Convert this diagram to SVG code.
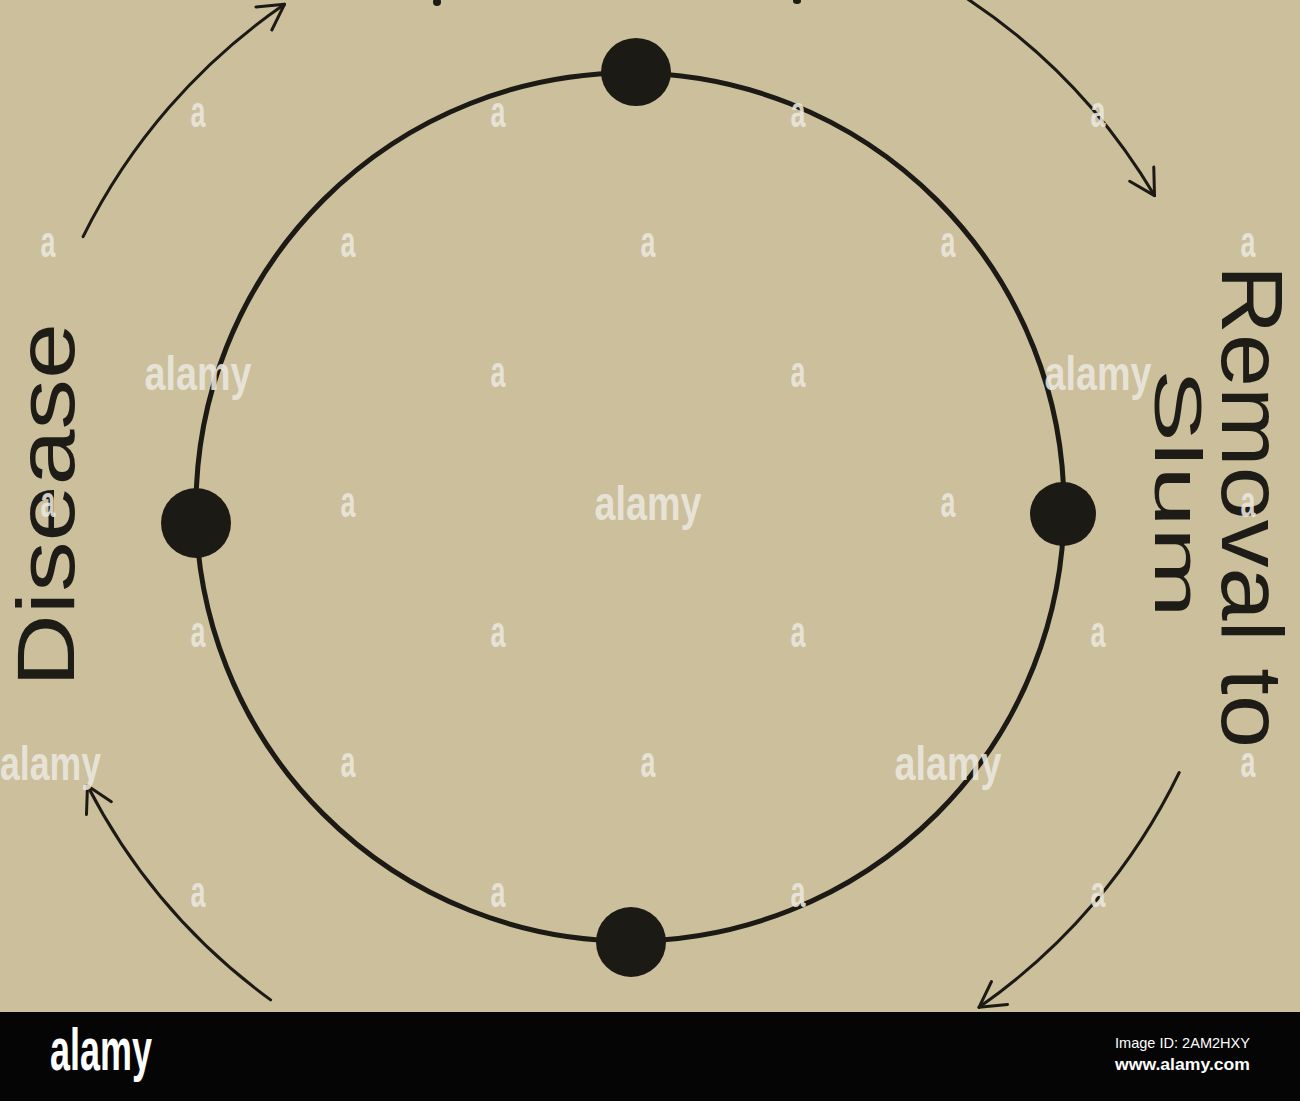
<svg xmlns="http://www.w3.org/2000/svg" width="1300" height="1101" viewBox="0 0 1300 1101">
<style>
.ink{fill:#1c1a15}
.line{fill:none;stroke:#1c1a15;stroke-linecap:round}
.circ{stroke-width:5}
.arr{stroke-width:3;marker-end:url(#barb)}
.lbl{font-family:"Liberation Sans",Arial,sans-serif;fill:#1e1c17}
.wa{font-family:"Liberation Sans",Arial,sans-serif;font-weight:bold;font-size:44px;fill:#ebe7df;fill-opacity:0.88}
.wl{font-family:"Liberation Sans",Arial,sans-serif;font-weight:bold;font-size:48px;fill:#ebe7df;fill-opacity:0.88}
.bar{font-family:"Liberation Sans",Arial,sans-serif;fill:#ffffff}
</style>
<defs>
<marker id="barb" markerUnits="userSpaceOnUse" viewBox="-30 -18 34 36" refX="0" refY="0" markerWidth="34" markerHeight="36" orient="auto" overflow="visible">
<path d="M -25 -14 L 0 0 L -25 14" fill="none" stroke="#1c1a15" stroke-width="3" stroke-linecap="round" stroke-linejoin="round"/>
</marker>
</defs>
<rect x="0" y="0" width="1300" height="1012" fill="#ccbf9c"/>
<g id="connectors">
<circle class="line circ" cx="630" cy="507" r="434"/>
<path class="line arr" d="M 83.1 236.7 A 610 610 0 0 1 284.5 4.3"/>
<path class="line arr" d="M 962.2 -4.6 A 610 610 0 0 1 1154.5 195.6"/>
<path class="line arr" d="M 1179.2 772.5 A 610 610 0 0 1 979.0 1007.3"/>
<path class="line arr" d="M 270.6 999.9 A 610 610 0 0 1 87.5 785.8"/>
</g>
<g id="node-top"><ellipse class="ink" cx="636" cy="72" rx="35" ry="34"/></g>
<g id="node-right"><ellipse class="ink" cx="1063" cy="514" rx="33" ry="32"/></g>
<g id="node-bottom"><ellipse class="ink" cx="631" cy="942" rx="35" ry="35"/></g>
<g id="node-left"><ellipse class="ink" cx="196" cy="523" rx="35" ry="35"/></g>
<g id="label-disease">
<text class="lbl" transform="translate(74,687) rotate(-90)" font-size="81.5" textLength="364" lengthAdjust="spacingAndGlyphs">Disease</text>
</g>
<g id="label-removal">
<text class="lbl" transform="translate(1222,265) rotate(90)" font-size="88" textLength="483" lengthAdjust="spacingAndGlyphs">Removal to</text>
<text class="lbl" transform="translate(1155,369) rotate(90)" font-size="66" textLength="249" lengthAdjust="spacingAndGlyphs">Slum</text>
</g>
<g id="edge-marks">
<ellipse class="ink" cx="437" cy="2" rx="4" ry="4"/>
<ellipse class="ink" cx="797" cy="1" rx="4" ry="3"/>
</g>
<g id="watermark">
<text class="wa" x="190.5" y="126.5" textLength="15" lengthAdjust="spacingAndGlyphs">a</text>
<text class="wa" x="490.5" y="126.5" textLength="15" lengthAdjust="spacingAndGlyphs">a</text>
<text class="wa" x="790.5" y="126.5" textLength="15" lengthAdjust="spacingAndGlyphs">a</text>
<text class="wa" x="1090.5" y="126.5" textLength="15" lengthAdjust="spacingAndGlyphs">a</text>
<text class="wa" x="40.5" y="256.5" textLength="15" lengthAdjust="spacingAndGlyphs">a</text>
<text class="wa" x="340.5" y="256.5" textLength="15" lengthAdjust="spacingAndGlyphs">a</text>
<text class="wa" x="640.5" y="256.5" textLength="15" lengthAdjust="spacingAndGlyphs">a</text>
<text class="wa" x="940.5" y="256.5" textLength="15" lengthAdjust="spacingAndGlyphs">a</text>
<text class="wa" x="1240.5" y="256.5" textLength="15" lengthAdjust="spacingAndGlyphs">a</text>
<text class="wl" x="144.5" y="390" textLength="107" lengthAdjust="spacingAndGlyphs">alamy</text>
<text class="wa" x="490.5" y="386.5" textLength="15" lengthAdjust="spacingAndGlyphs">a</text>
<text class="wa" x="790.5" y="386.5" textLength="15" lengthAdjust="spacingAndGlyphs">a</text>
<text class="wl" x="1044.5" y="390" textLength="107" lengthAdjust="spacingAndGlyphs">alamy</text>
<text class="wa" x="40.5" y="516.5" textLength="15" lengthAdjust="spacingAndGlyphs">a</text>
<text class="wa" x="340.5" y="516.5" textLength="15" lengthAdjust="spacingAndGlyphs">a</text>
<text class="wl" x="594.5" y="520" textLength="107" lengthAdjust="spacingAndGlyphs">alamy</text>
<text class="wa" x="940.5" y="516.5" textLength="15" lengthAdjust="spacingAndGlyphs">a</text>
<text class="wa" x="1240.5" y="516.5" textLength="15" lengthAdjust="spacingAndGlyphs">a</text>
<text class="wa" x="190.5" y="646.5" textLength="15" lengthAdjust="spacingAndGlyphs">a</text>
<text class="wa" x="490.5" y="646.5" textLength="15" lengthAdjust="spacingAndGlyphs">a</text>
<text class="wa" x="790.5" y="646.5" textLength="15" lengthAdjust="spacingAndGlyphs">a</text>
<text class="wa" x="1090.5" y="646.5" textLength="15" lengthAdjust="spacingAndGlyphs">a</text>
<text class="wl" x="0" y="780" textLength="101" lengthAdjust="spacingAndGlyphs">alamy</text>
<text class="wa" x="340.5" y="776.5" textLength="15" lengthAdjust="spacingAndGlyphs">a</text>
<text class="wa" x="640.5" y="776.5" textLength="15" lengthAdjust="spacingAndGlyphs">a</text>
<text class="wl" x="894.5" y="780" textLength="107" lengthAdjust="spacingAndGlyphs">alamy</text>
<text class="wa" x="1240.5" y="776.5" textLength="15" lengthAdjust="spacingAndGlyphs">a</text>
<text class="wa" x="190.5" y="906.5" textLength="15" lengthAdjust="spacingAndGlyphs">a</text>
<text class="wa" x="490.5" y="906.5" textLength="15" lengthAdjust="spacingAndGlyphs">a</text>
<text class="wa" x="790.5" y="906.5" textLength="15" lengthAdjust="spacingAndGlyphs">a</text>
<text class="wa" x="1090.5" y="906.5" textLength="15" lengthAdjust="spacingAndGlyphs">a</text>
</g>
<g id="footer">
<rect x="0" y="1012" width="1300" height="89" fill="#050505"/>
<text class="bar" x="50" y="1070" font-size="59" font-weight="bold" textLength="102" lengthAdjust="spacingAndGlyphs">alamy</text>
<text class="bar" x="1115" y="1048" font-size="15" textLength="135" lengthAdjust="spacingAndGlyphs">Image ID: 2AM2HXY</text>
<text class="bar" x="1115" y="1070" font-size="17" font-weight="bold" textLength="135" lengthAdjust="spacingAndGlyphs">www.alamy.com</text>
</g>
</svg>
